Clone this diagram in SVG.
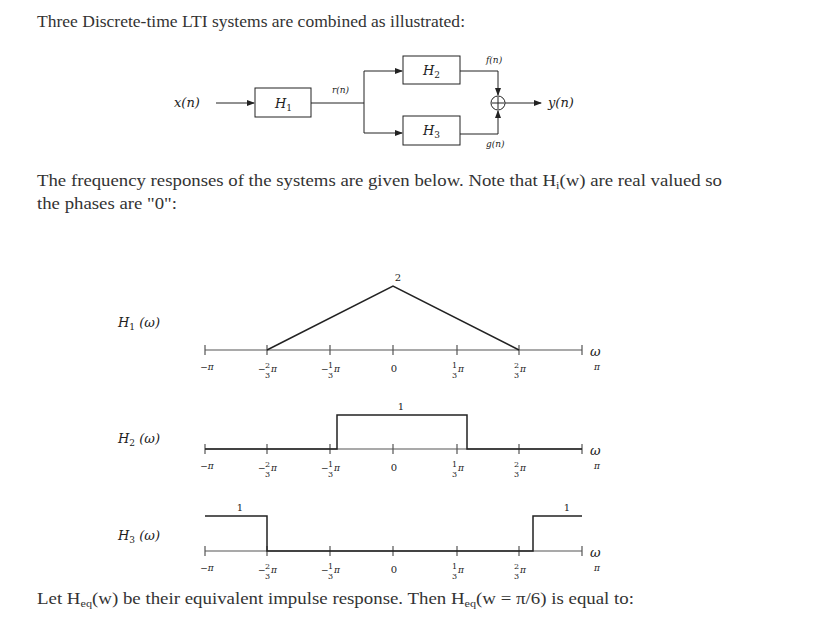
<svg xmlns="http://www.w3.org/2000/svg" width="819" height="617" viewBox="0 0 819 617">
<defs>
<marker id="ar" markerWidth="8" markerHeight="6" refX="7" refY="3" orient="auto" markerUnits="userSpaceOnUse"><path d="M0,0 L8,3 L0,6 z" fill="#222"/></marker>
<style>
.p{font-family:"Liberation Serif",serif;font-size:17px;fill:#333}
.m{font-family:"DejaVu Serif","Liberation Serif",serif;font-style:italic;font-size:13px;fill:#222}
.s{font-family:"DejaVu Serif","Liberation Serif",serif;font-style:italic;font-size:9px;fill:#222}
.t{font-family:"DejaVu Serif","Liberation Serif",serif;font-size:10px;fill:#222}
.f{font-family:"DejaVu Serif","Liberation Serif",serif;font-size:8px;fill:#222}
.ln{stroke:#222;stroke-width:1;fill:none}
.ax{stroke:#555;stroke-width:1.2;fill:none}
.cv{stroke:#222;stroke-width:1.5;fill:none}
.bx{stroke:#222;stroke-width:1;fill:#fff}
</style>
</defs>
<rect width="819" height="617" fill="#fff"/>
<text class="p" x="37" y="27" textLength="428" lengthAdjust="spacingAndGlyphs">Three Discrete-time LTI systems are combined as illustrated:</text>
<g id="xn"><text class="m" x="174" y="107">x(n)</text></g>
<g id="H1"><rect class="bx" x="255" y="88" width="56" height="29"/><text class="m" x="275" y="108">H<tspan font-size="9" font-style="normal" dy="3">1</tspan></text></g>
<g id="H2"><rect class="bx" x="403" y="56" width="57" height="28"/><text class="m" x="423" y="75">H<tspan font-size="9" font-style="normal" dy="3">2</tspan></text></g>
<g id="H3"><rect class="bx" x="403" y="116" width="57" height="29"/><text class="m" x="423" y="135">H<tspan font-size="9" font-style="normal" dy="3">3</tspan></text></g>
<g id="sum"><circle class="ln" cx="498" cy="103" r="7"/><path class="ln" d="M498,97 V109 M492,103 H504"/></g>
<g id="yn"><text class="m" x="548" y="107">y(n)</text></g>
<g id="connectors">
<path class="ln" d="M216,103 H254" marker-end="url(#ar)"/>
<path class="ln" d="M311,103 H364 M364,71 V133"/>
<path class="ln" d="M364,71 H402" marker-end="url(#ar)"/>
<path class="ln" d="M364,133 H402" marker-end="url(#ar)"/>
<path class="ln" d="M460,71 H498 V95" marker-end="url(#ar)"/>
<path class="ln" d="M460,134 H498 V111" marker-end="url(#ar)"/>
<path class="ln" d="M505,103 H541" marker-end="url(#ar)"/>
<text class="s" x="332" y="93">r(n)</text>
<text class="s" x="486" y="63">f(n)</text>
<text class="s" x="486" y="147">g(n)</text>
</g>
<text class="p" x="37" y="186" textLength="685" lengthAdjust="spacingAndGlyphs">The frequency responses of the systems are given below. Note that H<tspan font-size="11" dy="3">i</tspan><tspan dy="-3">(w) are real valued so</tspan></text>
<text class="p" x="37" y="209" textLength="140" lengthAdjust="spacingAndGlyphs">the phases are "0":</text>

<g id="plot1">
<text class="m" x="118" y="327">H<tspan font-size="9" font-style="normal" dy="3">1</tspan><tspan dy="-3"> (ω)</tspan></text>
<path class="ax" d="M205,350 H582 M205,345 V355 M267,345 V355 M330,345 V355 M393,345 V355 M457,345 V355 M519,345 V355 M582,345 V355"/>
<path class="cv" d="M267,350 L393,286 L519,350"/>
<text class="t" x="398" y="281" text-anchor="middle">2</text>
<text class="m" x="590" y="356">ω</text>
</g>
<g id="plot2">
<text class="m" x="118" y="443">H<tspan font-size="9" font-style="normal" dy="3">2</tspan><tspan dy="-3"> (ω)</tspan></text>
<path class="ax" d="M205,449 H582 M205,444 V454 M267,444 V454 M330,444 V454 M393,444 V454 M457,444 V454 M519,444 V454 M582,444 V454"/>
<path class="cv" d="M205,449 H337 V415 H467 V449 H582"/>
<text class="t" x="401" y="410" text-anchor="middle">1</text>
<text class="m" x="590" y="455">ω</text>
</g>
<g id="plot3">
<text class="m" x="118" y="540">H<tspan font-size="9" font-style="normal" dy="3">3</tspan><tspan dy="-3"> (ω)</tspan></text>
<path class="ax" d="M205,551 H582 M205,546 V556 M267,546 V556 M330,546 V556 M393,546 V556 M457,546 V556 M519,546 V556 M582,546 V556"/>
<path class="cv" d="M205,516 H267 V551 H533 V516 H582"/>
<text class="t" x="240" y="511" text-anchor="middle">1</text>
<text class="t" x="567" y="511" text-anchor="middle">1</text>
<text class="m" x="590" y="557">ω</text>
</g>
<g id="ticklabels">
<g id="tl1">
<text class="s" x="207" y="370" text-anchor="middle">−π</text>
<text class="s" x="258" y="372">−</text><text class="f" x="265" y="368">2</text><text class="f" x="265" y="378">3</text><text class="s" x="271" y="372">π</text>
<text class="s" x="321" y="372">−</text><text class="f" x="328" y="368">1</text><text class="f" x="328" y="378">3</text><text class="s" x="334" y="372">π</text>
<text class="t" x="394" y="372" text-anchor="middle">0</text>
<text class="f" x="452" y="368">1</text><text class="f" x="452" y="378">3</text><text class="s" x="458" y="372">π</text>
<text class="f" x="514" y="368">2</text><text class="f" x="514" y="378">3</text><text class="s" x="520" y="372">π</text>
<text class="s" x="597" y="370" text-anchor="middle">π</text>
</g>
<g transform="translate(0,99)">
<text class="s" x="207" y="370" text-anchor="middle">−π</text>
<text class="s" x="258" y="372">−</text><text class="f" x="265" y="368">2</text><text class="f" x="265" y="378">3</text><text class="s" x="271" y="372">π</text>
<text class="s" x="321" y="372">−</text><text class="f" x="328" y="368">1</text><text class="f" x="328" y="378">3</text><text class="s" x="334" y="372">π</text>
<text class="t" x="394" y="372" text-anchor="middle">0</text>
<text class="f" x="452" y="368">1</text><text class="f" x="452" y="378">3</text><text class="s" x="458" y="372">π</text>
<text class="f" x="514" y="368">2</text><text class="f" x="514" y="378">3</text><text class="s" x="520" y="372">π</text>
<text class="s" x="597" y="370" text-anchor="middle">π</text>
</g>
<g transform="translate(0,201)">
<text class="s" x="207" y="370" text-anchor="middle">−π</text>
<text class="s" x="258" y="372">−</text><text class="f" x="265" y="368">2</text><text class="f" x="265" y="378">3</text><text class="s" x="271" y="372">π</text>
<text class="s" x="321" y="372">−</text><text class="f" x="328" y="368">1</text><text class="f" x="328" y="378">3</text><text class="s" x="334" y="372">π</text>
<text class="t" x="394" y="372" text-anchor="middle">0</text>
<text class="f" x="452" y="368">1</text><text class="f" x="452" y="378">3</text><text class="s" x="458" y="372">π</text>
<text class="f" x="514" y="368">2</text><text class="f" x="514" y="378">3</text><text class="s" x="520" y="372">π</text>
<text class="s" x="597" y="370" text-anchor="middle">π</text>
</g>
</g>
<text class="p" x="37" y="604" textLength="597" lengthAdjust="spacingAndGlyphs">Let H<tspan font-size="11" dy="3">eq</tspan><tspan dy="-3">(w) be their equivalent impulse response. Then H</tspan><tspan font-size="11" dy="3">eq</tspan><tspan dy="-3">(w = π/6) is equal to:</tspan></text>
</svg>
